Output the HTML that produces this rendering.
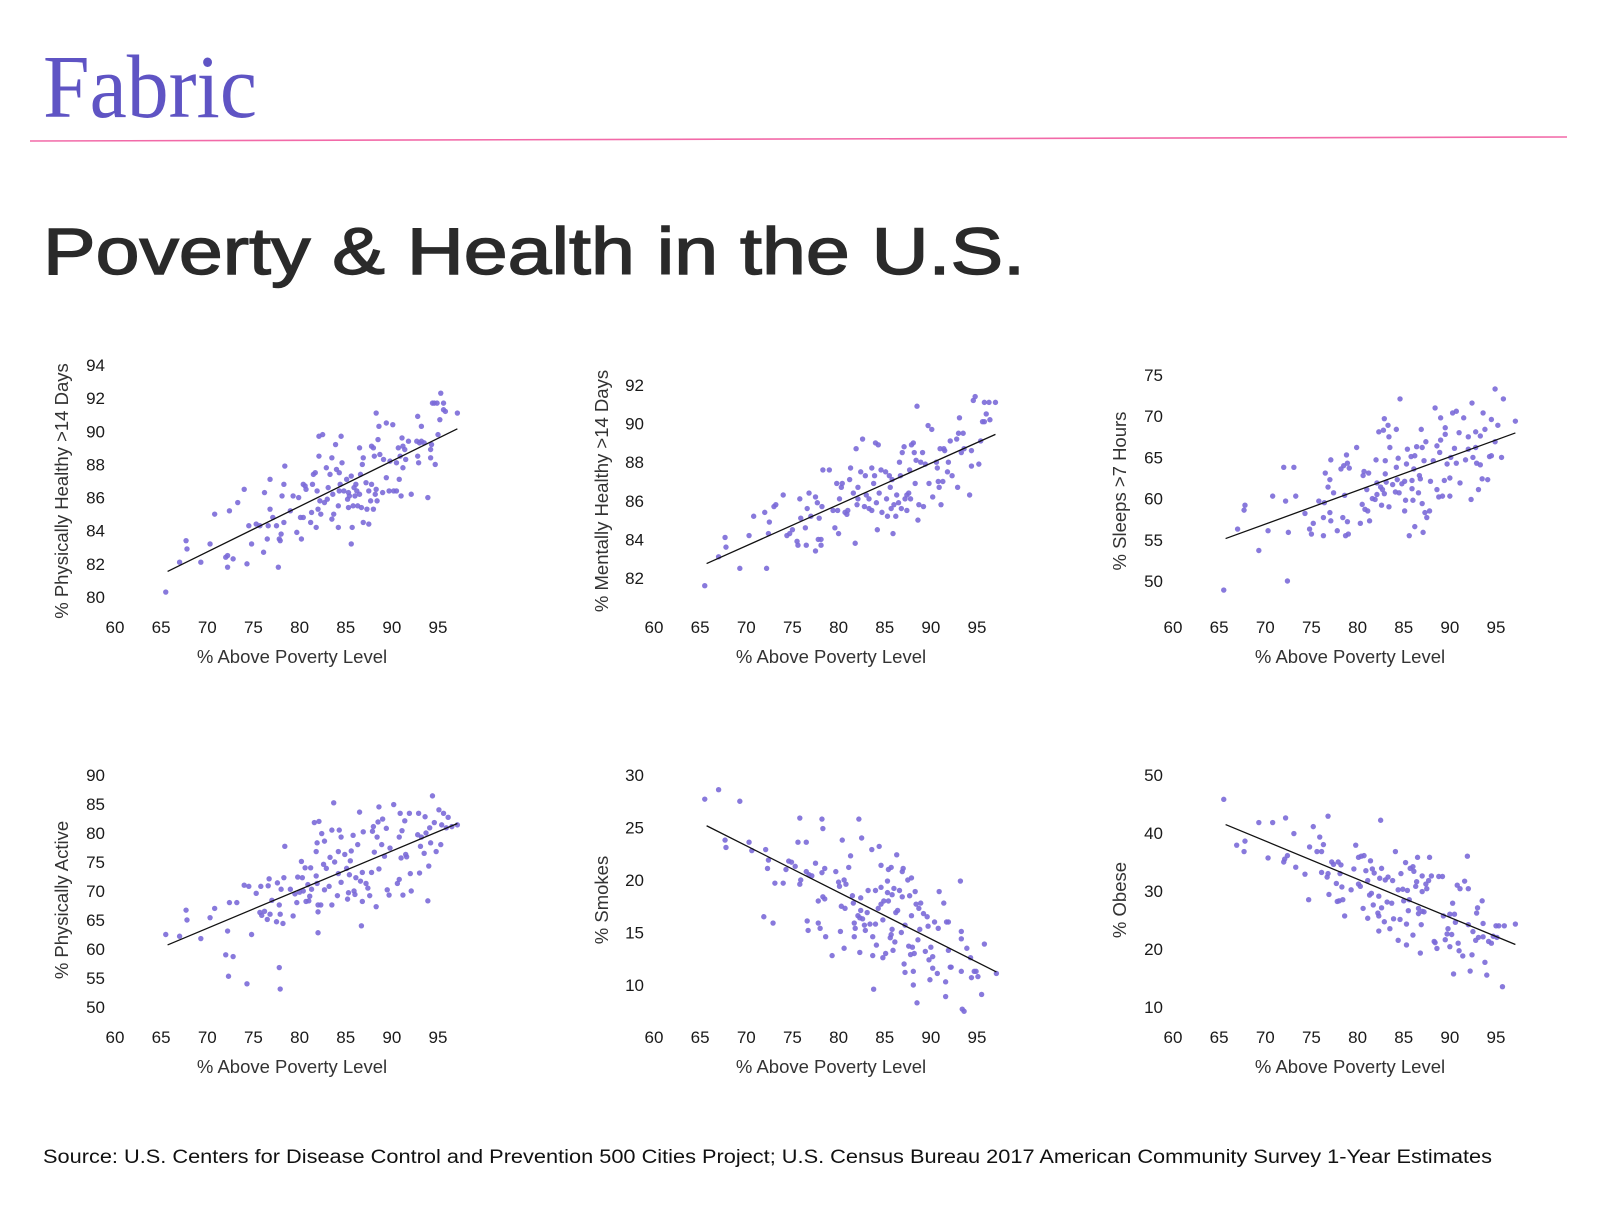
<!DOCTYPE html>
<html><head><meta charset="utf-8"><style>
html,body{margin:0;padding:0;background:#fff;}
svg{display:block;}
text{font-family:"Liberation Sans",sans-serif;}
</style></head><body>
<svg id="page" width="1600" height="1205" viewBox="0 0 1600 1205">
<text x="43" y="117" style="font-family:'Liberation Serif',serif" font-size="90" fill="#5f54c4" textLength="214" lengthAdjust="spacingAndGlyphs">Fabric</text>
<line x1="30" y1="141" x2="1567" y2="137" stroke="#f26aa8" stroke-width="1.6"/>
<text x="43" y="274" font-size="66" font-weight="normal" fill="#2a2a2a" stroke="#2a2a2a" stroke-width="1.4" textLength="982" lengthAdjust="spacingAndGlyphs">Poverty &amp; Health in the U.S.</text>
<text x="43" y="1163" font-size="19" fill="#111" textLength="1449" lengthAdjust="spacingAndGlyphs">Source: U.S. Centers for Disease Control and Prevention 500 Cities Project; U.S. Census Bureau 2017 American Community Survey 1-Year Estimates</text>
<g id="charts"></g>
</svg>
<script>
const xTicks = [60,65,70,75,80,85,90,95];
const titles = ["% Physically Healthy >14 Days","% Mentally Healthy >14 Days","% Sleeps >7 Hours","% Physically Active","% Smokes","% Obese"];
const yTicks1 = [80,82,84,86,88,90,92,94];
const yTicks2 = [82,84,86,88,90,92];
const yTicks3 = [50,55,60,65,70,75];
const yTicks4 = [50,55,60,65,70,75,80,85,90];
const yTicks5 = [10,15,20,25,30];
const yTicks6 = [10,20,30,40,50];
const data1 = [[65.5,80.3],[67,82.1],[67.7,83.4],[67.8,82.9],[69.3,82.1],[70.3,83.2],[70.8,85],[72,82.4],[72.2,82.5],[72.2,81.8],[72.4,85.2],[72.8,82.3],[73.3,85.7],[74,86.5],[74.3,82],[74.5,84.3],[74.8,83.2],[75.3,84.4],[75.7,84.3],[76.1,82.7],[76.2,86.3],[76.5,83.5],[76.6,84.3],[76.8,85.3],[76.8,87.1],[77.1,84.8],[77.5,84.3],[77.7,81.8],[77.8,83.5],[77.9,83.4],[78,83.8],[78.1,86.1],[78.3,86.8],[78.3,84.5],[78.4,87.9],[79,85.2],[79.3,86.1],[79.7,83.9],[79.9,86],[80.1,84.8],[80.2,83.5],[80.4,86.8],[80.4,84.8],[80.6,86.7],[80.7,86.5],[81.2,84.5],[81.3,85.1],[81.4,86.8],[81.5,87.4],[81.7,87.5],[81.8,84.2],[81.9,86.4],[82,85.3],[82.1,89.7],[82.1,88.5],[82.2,85.8],[82.3,85],[82.5,89.8],[82.7,85.7],[82.9,87.8],[83,85.9],[83.1,86.6],[83.3,87.4],[83.5,84.7],[83.5,88.4],[83.6,86.2],[83.7,85],[83.9,89.2],[84,87.7],[84.2,85.5],[84.2,84.2],[84.3,87.5],[84.3,86.4],[84.4,86.8],[84.5,89.7],[84.6,88.1],[84.8,86.4],[85.1,87.1],[85.2,85.9],[85.3,86.3],[85.3,85.4],[85.4,86.1],[85.6,87.3],[85.6,83.2],[85.7,84.2],[85.8,85.5],[85.9,86.6],[86,86.1],[86.1,86.8],[86.2,86.4],[86.3,85.5],[86.5,89],[86.5,86.2],[86.6,87.4],[86.7,85.4],[86.8,88],[86.9,88.4],[86.9,84.5],[87.2,86.9],[87.3,85.3],[87.5,86.4],[87.5,84.4],[87.7,85.8],[87.8,89.1],[87.8,86.8],[88,85.3],[88,89],[88.1,88.5],[88.2,86.2],[88.3,86.5],[88.3,91.1],[88.4,85.8],[88.5,89.5],[88.6,90.3],[88.7,88.6],[89,86.3],[89.1,88.3],[89.4,90.5],[89.4,87.2],[89.7,86.4],[89.8,88.2],[90.1,90.4],[90.2,86.4],[90.5,88.1],[90.5,86.4],[90.7,89],[90.8,87.1],[90.9,88.5],[91,86.1],[91.1,89.6],[91.2,87.8],[91.2,89.1],[91.4,88.9],[91.5,88.3],[91.8,89.4],[92.1,86.2],[92.7,89.4],[92.8,88.5],[92.8,90.9],[92.9,88.1],[93,89.3],[93.2,90.3],[93.2,89.4],[93.5,89.3],[93.9,86],[94.2,88.9],[94.2,88.4],[94.3,89.2],[94.4,91.7],[94.6,91.7],[94.7,88],[94.9,91.7],[95,89.8],[95.3,92.3],[95.2,90.7],[95.6,91.3],[95.6,91.7],[95.8,91.2],[97.1,91.1]];
const data2 = [[65.5,81.6],[67,83.1],[67.7,84.1],[67.8,83.6],[69.3,82.5],[70.3,84.2],[70.8,85.2],[72,85.4],[72.2,82.5],[72.4,84.3],[72.5,84.9],[73,85.7],[73.2,85.8],[74,86.3],[74.4,84.2],[74.7,84.3],[75,84.5],[75.5,83.9],[75.6,83.7],[75.8,86.1],[75.9,85.1],[76.4,84.6],[76.5,83.7],[76.6,85.6],[76.8,86.4],[77,85.2],[77.5,86.2],[77.5,83.4],[77.7,85.9],[77.8,84],[77.9,85.1],[78.1,83.7],[78.1,84],[78.2,85.7],[78.3,87.6],[79,87.6],[79.4,85.5],[79.6,84.6],[79.8,86.9],[79.9,85.5],[80,84.3],[80.1,86.1],[80.3,86.7],[80.4,86.9],[80.7,85.4],[80.9,85.3],[81,85.5],[81.2,87.1],[81.3,87.7],[81.6,86.4],[81.8,83.8],[81.9,88.7],[82,85.8],[82.1,86.1],[82.1,86.7],[82.4,87.5],[82.6,89.2],[82.8,85.7],[82.9,87.3],[83,86.3],[83.3,86.1],[83.3,85.6],[83.6,87.7],[83.6,85.5],[83.8,86.9],[83.9,87.3],[84,89],[84.1,85.9],[84.2,84.5],[84.3,88.9],[84.4,86.4],[84.6,87.6],[84.7,85.4],[85.1,87.5],[85.2,86.1],[85.3,85.2],[85.5,87.3],[85.6,86.7],[85.7,85.6],[85.8,87.1],[85.9,84.3],[86,85.8],[86.2,85.2],[86.3,86.3],[86.5,85.9],[86.6,88],[86.7,87.3],[86.8,85.6],[86.9,88.5],[87.1,88.8],[87.2,86.1],[87.4,86.3],[87.4,85.5],[87.6,86.4],[87.7,87.6],[87.8,86.1],[87.9,88.9],[88.1,89],[88.2,88.5],[88.3,86.9],[88.4,88.1],[88.5,90.9],[88.6,85],[88.7,85.8],[88.9,88],[89.1,88.5],[89.2,85.7],[89.4,87.9],[89.7,89.9],[89.8,86.9],[90.1,89.7],[90.2,86.2],[90.6,88],[90.7,87.7],[90.8,87],[90.9,86.7],[91,88.7],[91.1,85.8],[91.3,87],[91.4,88.7],[91.5,88.6],[91.8,87.5],[91.9,88],[92.1,89.1],[92.3,87.3],[92.8,89.2],[92.9,86.7],[93,89.5],[93.1,90.3],[93.3,88.5],[93.5,89.5],[93.6,88.7],[94.2,86.3],[94.4,88.6],[94.4,87.8],[94.6,91.2],[94.8,91.4],[95.2,87.9],[95.4,89.1],[95.6,90.1],[95.8,90.1],[95.8,91.1],[96,90.5],[96.3,91.1],[96.4,90.2],[97,91.1]];
const data3 = [[65.5,48.9],[67,56.3],[67.7,58.6],[67.8,59.2],[69.3,53.7],[70.3,56.1],[70.8,60.3],[72,63.8],[72.2,59.7],[72.4,50],[72.5,55.9],[73.1,63.8],[73.3,60.3],[74.3,58.2],[74.8,56.3],[75,55.7],[75.2,57],[75.8,59.7],[76.3,57.7],[76.3,55.5],[76.4,59.5],[76.5,63.1],[76.8,61.4],[77,58.3],[77,62.3],[77.1,57.3],[77.1,64.7],[77.4,60.7],[77.8,56.1],[78.2,63.6],[78.4,57.7],[78.5,64],[78.6,60.4],[78.7,55.5],[78.8,65.3],[78.9,57.2],[79,55.7],[78.9,64.3],[79.1,63.7],[79.9,66.2],[80.3,57],[80.5,59.3],[80.6,62.8],[80.7,63.3],[80.8,58.7],[81,61.1],[81.1,58.5],[81.2,63.1],[81.3,57.3],[81.6,60],[81.9,59.9],[82,64.7],[82.1,60.5],[82.1,61.9],[82.3,68.1],[82.5,61.4],[82.6,59.2],[82.7,61.1],[82.8,68.3],[82.9,69.7],[82.9,60.6],[83,64.6],[83,63],[83.1,62],[83.3,68.9],[83.4,67.5],[83.4,59],[83.5,66.2],[83.8,61.7],[84.1,60.8],[84.2,68.4],[84.2,63.8],[84.3,62.3],[84.4,64.9],[84.5,60.7],[84.6,72.1],[84.8,61.8],[85.1,62.1],[85.1,58.5],[85.2,59.8],[85.3,64.2],[85.4,66],[85.6,55.5],[85.8,65.1],[85.9,62.2],[85.9,61.2],[86,59.8],[86.1,63.6],[86.2,56.6],[86.2,65.2],[86.4,66.3],[86.6,60.7],[86.7,62.8],[86.8,62.4],[86.9,68.4],[87,66.2],[87,59.4],[87.1,55.9],[87.2,64.6],[87.3,58.3],[87.4,66.9],[87.5,57.7],[87.8,58.5],[87.9,62.1],[88.2,64.6],[88.4,71],[88.6,61.1],[88.6,66.4],[88.8,60.2],[88.9,65.6],[89,69.8],[89,67.1],[89.2,60.3],[89.4,62.2],[89.5,68.6],[89.5,67.8],[89.7,64.2],[90,60.3],[90,62.5],[90.1,65],[90.3,70.4],[90.5,66.1],[90.7,70.6],[90.7,64.3],[91,68],[91.1,61.9],[91.5,69.8],[91.7,64.7],[92,66],[92,67.5],[92.3,59.9],[92.4,71.6],[92.5,65],[92.8,66.2],[92.8,68.1],[92.9,64.3],[93.1,61.1],[93.3,67.6],[93.3,64.1],[93.5,62.4],[93.6,70.4],[93.8,68.4],[94.1,62.3],[94.3,65.1],[94.5,69.6],[94.5,65.2],[94.9,73.3],[94.9,66.9],[95.2,68.9],[95.6,65],[95.8,72.1],[97.1,69.4]];
const data4 = [[65.5,62.5],[67,62.2],[67.7,66.7],[67.8,65],[69.3,61.8],[70.3,65.4],[70.8,67],[72,59],[72.2,63.1],[72.3,55.3],[72.4,68],[72.8,58.7],[73.2,68],[74,71],[74.3,54],[74.5,70.8],[74.8,62.5],[75.3,69.6],[75.7,66.3],[75.8,70.8],[75.9,65.8],[76.2,66.5],[76.5,65.1],[76.6,70.9],[76.7,72.1],[76.8,66],[77,68.4],[77.5,64.7],[77.6,71.4],[77.8,67.6],[77.8,56.8],[77.9,66],[77.9,53.1],[78,70.3],[78.2,64.4],[78.3,72.3],[78.4,77.7],[79,70.3],[79.3,65.7],[79.5,69.5],[79.7,68],[79.8,72.4],[80,69.8],[80.2,75.1],[80.3,72.3],[80.4,70],[80.6,74],[80.7,68.2],[80.9,71.1],[81,68.3],[81.1,69.1],[81.2,74],[81.3,70.3],[81.6,81.8],[81.8,72.6],[81.8,76.8],[81.9,71.3],[81.9,78.3],[82,62.8],[82,66.4],[82,67.6],[82.1,82],[82.3,67.6],[82.4,79.9],[82.6,74.6],[82.7,70.2],[82.7,78.6],[82.9,73.9],[83.2,70.8],[83.3,75.8],[83.5,67.6],[83.5,80.5],[83.7,85.2],[83.8,75],[84.1,69.2],[84.2,73],[84.2,76.8],[84.3,80.5],[84.5,71.5],[84.5,79.3],[84.9,76.3],[85.1,73.9],[85.2,68.6],[85.3,69.7],[85.4,72.8],[85.5,75.2],[85.6,76.9],[85.8,79.6],[85.9,70],[86,69.4],[86.1,72.3],[86.3,78],[86.5,83.6],[86.6,71.7],[86.7,64],[86.8,73.2],[86.8,68.2],[86.9,80.2],[87.2,71.3],[87.4,70.5],[87.6,69.2],[87.8,73.2],[87.9,80.3],[88,81.1],[88.1,76.7],[88.3,67.3],[88.4,79.3],[88.5,81.9],[88.6,84.5],[88.6,73.8],[88.9,78],[89,82.4],[89.2,76],[89.4,80.8],[89.5,70.2],[89.7,69.3],[89.8,77.4],[90.2,84.9],[90.6,71.3],[90.8,72],[90.8,79.3],[90.9,83.4],[91,75.7],[91.1,80.4],[91.2,69.3],[91.4,82.1],[91.5,76.3],[91.6,75.9],[91.9,83.4],[92,73],[92.1,70],[92.8,79.7],[92.9,83.4],[93,73.1],[93.1,77.7],[93.2,79.3],[93.5,76.5],[93.6,82.8],[93.7,80],[93.9,68.3],[94,74.3],[94.1,80.9],[94.2,78.3],[94.4,86.4],[94.6,81.8],[94.8,76.8],[95.1,84],[95.4,81.4],[95.3,78],[95.6,83.4],[95.9,80.9],[96.1,82.7],[96.5,81.1],[97.1,81.4]];
const data5 = [[65.5,27.7],[67,28.6],[67.7,23.8],[67.8,23.1],[69.3,27.5],[70.3,23.6],[70.6,22.8],[71.9,16.5],[72.1,22.9],[72.3,21.1],[72.4,21.9],[72.9,15.9],[73.1,19.7],[74,19.7],[74.3,21],[74.6,21.8],[74.9,21.7],[75.3,21.3],[75.6,23.6],[75.8,25.9],[75.8,19.6],[75.9,20],[76.5,23.6],[76.5,20.8],[76.6,16.1],[76.7,15.2],[76.8,20.5],[77.1,20.4],[77.5,21.6],[77.8,18],[77.8,15.9],[78,15.4],[78.2,25.8],[78.2,20.7],[78.3,24.9],[78.3,18.4],[78.5,21.1],[78.5,18.2],[78.6,14.6],[79.3,12.8],[79.7,20.8],[80,19.8],[80.1,19.4],[80.2,15.1],[80.3,17.5],[80.4,23.8],[80.6,13.5],[80.6,20],[80.7,17.3],[80.8,19.6],[81.1,21.2],[81.3,22.3],[81.5,18.5],[81.6,17.8],[81.7,14.6],[81.7,15.9],[81.8,15.4],[82.1,16.6],[82.2,25.8],[82.3,13.1],[82.3,16.4],[82.4,17.1],[82.4,18.3],[82.5,24],[82.6,16.3],[82.8,15.7],[82.9,15.2],[83.1,16.9],[83.2,19],[83.4,15.8],[83.6,22.9],[83.7,12.8],[83.7,14.6],[83.8,9.6],[84,15.8],[84,19],[84.1,13.8],[84.3,17.3],[84.4,23.2],[84.6,19.3],[84.6,17.7],[84.6,21.4],[84.9,18],[84.8,12.6],[84.8,16.2],[85.1,13],[85.3,18.8],[85.3,19.9],[85.4,21],[85.4,18],[85.6,14.5],[85.7,21.2],[85.7,14.8],[85.8,18.6],[85.8,15.3],[85.9,13.3],[86,19.2],[86.1,14.1],[86.2,16.9],[86.3,22.4],[86.4,17.1],[86.6,19],[86.8,15],[86.9,20.8],[86.9,18.4],[87,21.1],[87.1,12],[87.2,11.2],[87.2,15.7],[87.5,20],[87.6,13.7],[87.7,18.5],[87.8,12.9],[87.9,20.2],[87.9,16.6],[88,13.6],[88.1,10],[88.1,11.3],[88.2,13],[88.3,18.9],[88.4,17.7],[88.5,8.3],[88.6,14.3],[88.7,17.3],[88.8,15.3],[88.9,17.8],[89.2,16.8],[89.4,13.2],[89.6,16.5],[89.7,15.6],[89.8,12.4],[89.9,10.5],[90,13.6],[90.2,11.6],[90.2,12.7],[90.4,16],[90.7,11.1],[90.8,15.4],[90.9,18.9],[91.4,17.8],[91.6,10.3],[91.6,8.9],[91.7,16],[91.9,16],[91.9,13.3],[92.1,11.7],[92.2,11.7],[93.2,19.9],[93.3,15.1],[93.3,14.4],[93.3,11.3],[93.4,7.7],[93.6,7.5],[93.9,13.5],[94.3,12.6],[94.4,10.7],[94.7,11.3],[94.9,11.3],[95.1,10.8],[95.5,9.1],[95.8,13.9],[97.1,11.1]];
const data6 = [[65.5,45.8],[66.9,37.9],[67.7,36.8],[67.8,38.6],[69.3,41.8],[70.3,35.7],[70.8,41.8],[72,35],[72.1,35.5],[72.2,42.6],[72.4,36.1],[73.1,39.9],[73.3,34.1],[74.3,32.9],[74.7,28.5],[74.8,37.6],[75.2,41.1],[75.6,36.8],[75.9,39.3],[76.1,36.8],[76.1,33.2],[76.3,38],[76.7,32.4],[76.8,42.9],[76.8,33],[76.9,29.4],[77.2,35],[77.4,34.6],[77.7,31.3],[77.8,28.2],[77.9,35],[78,28.3],[78.1,33],[78.2,34.5],[78.3,30.7],[78.4,28.5],[78.6,25.7],[79.3,30.2],[79.6,33.8],[79.8,37.9],[80.1,35.8],[80.1,31.2],[80.3,30.8],[80.4,36],[80.6,27],[80.7,36.1],[80.9,33.5],[81.1,31.8],[81.1,25.3],[81.3,29.3],[81.4,35.2],[81.5,29.6],[81.6,33.8],[81.7,27.6],[81.8,33.1],[82.2,26.2],[82.3,23.1],[82.3,29.1],[82.3,25.7],[82.4,32.2],[82.5,42.2],[82.6,27.1],[82.6,33.9],[82.9,24.7],[83,31.9],[83.2,28.1],[83.3,32.4],[83.5,23.5],[83.7,27.9],[83.8,31.8],[83.9,25.2],[84.1,36.8],[84.4,30.2],[84.4,21.5],[84.6,25.1],[84.7,33],[84.9,30.3],[85,28.3],[85.2,34.9],[85.3,24.3],[85.3,20.7],[85.4,30.1],[85.5,26.6],[85.6,28.5],[85.7,33.9],[86,22.4],[86,34.2],[86.1,33.4],[86.3,30.8],[86.4,31.6],[86.5,35.8],[86.6,27],[86.6,26.1],[86.8,19.3],[86.9,24.2],[87,29.9],[87,32.6],[87,26.5],[87.2,26.4],[87.4,31.2],[87.5,30.4],[87.7,31.8],[87.8,35.8],[88,32.6],[88.3,21.3],[88.4,21.1],[88.6,20.1],[88.8,32.5],[89.2,32.5],[89.3,25.7],[89.5,21.6],[89.7,22.6],[89.8,23.5],[90,26],[90,20.4],[90.2,22.5],[90.3,27.9],[90.4,15.7],[90.5,26],[90.6,24.6],[90.8,31],[90.9,21],[91,19.7],[91.1,30.4],[91.4,18.8],[91.6,31.7],[91.9,36],[92,30.4],[92,24.2],[92.2,16.2],[92.4,19],[92.5,23],[92.8,21.5],[92.9,26.2],[93,27.1],[93.1,22],[93.5,28.3],[93.6,24.4],[93.6,22.1],[93.8,17.7],[94,15.5],[94.2,21.3],[94.5,21],[94.7,22.2],[95,24],[95.1,22],[95.3,24],[95.7,13.5],[95.9,24],[97.1,24.3]];

const NS = "http://www.w3.org/2000/svg";
const charts = [
  {data:data1, yt:yTicks1, col:0, row:0, yTop:94, yTopPx:365, yBot:80, yBotPx:597, name:"physically-healthy"},
  {data:data2, yt:yTicks2, col:1, row:0, yTop:92, yTopPx:385, yBot:82, yBotPx:578, name:"mentally-healthy"},
  {data:data3, yt:yTicks3, col:2, row:0, yTop:75, yTopPx:375, yBot:50, yBotPx:581, name:"sleeps"},
  {data:data4, yt:yTicks4, col:0, row:1, yTop:90, yTopPx:775, yBot:50, yBotPx:1007, name:"physically-active"},
  {data:data5, yt:yTicks5, col:1, row:1, yTop:30, yTopPx:775, yBot:10, yBotPx:985, name:"smokes"},
  {data:data6, yt:yTicks6, col:2, row:1, yTop:50, yTopPx:775, yBot:10, yBotPx:1007, name:"obese"}
];
const colX60 = [115,654,1173];
const yLabRight = [105,644,1163];
const yTitleX = [62,602,1120];
const xTitleX = [292,831,1350];
const rowTickY = [627,1037];
const rowXTitleY = [657,1067];
const rowYTitleY = [491,900];
const pxPerX = (438-115)/35;

function mk(tag, attrs, parent){
  const e = document.createElementNS(NS, tag);
  for (const k in attrs) e.setAttribute(k, attrs[k]);
  parent.appendChild(e);
  return e;
}
const root = document.getElementById('charts');
charts.forEach((c, i) => {
  const g = mk('g', {}, root);
  
  
  const xs = v => colX60[c.col] + (v - 60) * pxPerX;
  const ys = v => c.yTopPx + (c.yTop - v) * (c.yBotPx - c.yTopPx) / (c.yTop - c.yBot);
  xTicks.forEach(t => {
    const e = mk('text', {x: xs(t), y: rowTickY[c.row] + 6, 'text-anchor':'middle', 'font-size':17, fill:'#1a1a1a'}, g);
    e.textContent = t;
    
    
  });
  c.yt.forEach(t => {
    const e = mk('text', {x: yLabRight[c.col], y: ys(t) + 6, 'text-anchor':'end', 'font-size':17, fill:'#1a1a1a'}, g);
    e.textContent = t;
    
    
  });
  const xt = mk('text', {x: xTitleX[c.col], y: rowXTitleY[c.row] + 6, 'text-anchor':'middle', 'font-size':18.5, fill:'#333'}, g);
  xt.textContent = '% Above Poverty Level';
  
  
  const yx = yTitleX[c.col], yy = rowYTitleY[c.row];
  const yt = mk('text', {x: yx, y: yy, 'text-anchor':'middle', 'font-size':18.5, fill:'#333', transform:'rotate(-90 '+yx+' '+yy+') translate(0 6)'}, g);
  yt.textContent = titles[i];
  
  
  c.data.forEach(p => {
    const d = mk('circle', {cx: xs(p[0]), cy: ys(p[1]), r: 2.7, fill:'#7b6ad8', 'fill-opacity':0.9}, g);
    
    
  });
  const n = c.data.length;
  let sx=0, sy=0, sxx=0, sxy=0;
  c.data.forEach(p => { sx+=p[0]; sy+=p[1]; sxx+=p[0]*p[0]; sxy+=p[0]*p[1]; });
  const b = (n*sxy - sx*sy) / (n*sxx - sx*sx);
  const a = (sy - b*sx) / n;
  const minX = Math.min(...c.data.map(p=>p[0])), maxX = Math.max(...c.data.map(p=>p[0]));
  const x0 = minX + 0.2, x1 = maxX;
  const ln = mk('line', {x1: xs(x0), y1: ys(a + b*x0), x2: xs(x1), y2: ys(a + b*x1), stroke:'#111', 'stroke-width':1.3}, g);
  
  
});
</script>
</body></html>
